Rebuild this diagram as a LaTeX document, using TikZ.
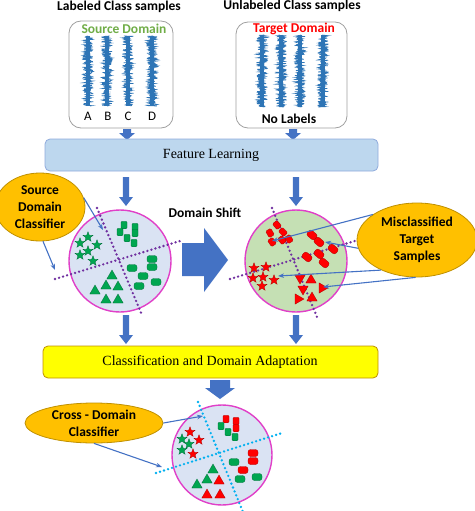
\documentclass[tikz,border=0pt]{standalone}
\usepackage{fontspec}
\setmainfont{Carlito}
\newfontfamily\serifft{Liberation Serif}
\usetikzlibrary{shapes.geometric,arrows.meta}
\definecolor{arrblue}{HTML}{4472C4}
\definecolor{wave}{HTML}{2E75B6}
\definecolor{srcgreen}{HTML}{70AD47}
\definecolor{tgtred}{HTML}{FF0000}
\definecolor{boxgray}{HTML}{A0A0A0}
\definecolor{featfill}{HTML}{BDD7EE}
\definecolor{featdraw}{HTML}{8FAADC}
\definecolor{classfill}{HTML}{FFFF00}
\definecolor{classdraw}{HTML}{BF9000}
\definecolor{ellfill}{HTML}{FFC000}
\definecolor{elldraw}{HTML}{BF9000}
\definecolor{circblue}{HTML}{DAE3F3}
\definecolor{circgreen}{HTML}{C5E0B4}
\definecolor{magentaB}{HTML}{E040C8}
\definecolor{dotpurple}{HTML}{7030A0}
\definecolor{dotcyan}{HTML}{00B0F0}
\definecolor{shg}{HTML}{00A650}
\definecolor{shgd}{HTML}{00703A}
\definecolor{shr}{HTML}{FF0000}
\definecolor{shrd}{HTML}{B00000}
\newcommand\blkdown[6]{%
 \fill[arrblue] ({#1-#4},#2) -- ({#1+#4},#2) -- ({#1+#4},{#3-#6}) -- ({#1+#5},{#3-#6}) -- (#1,#3) -- ({#1-#5},{#3-#6}) -- ({#1-#4},{#3-#6}) -- cycle;}
\newcommand\wavef[3]{%
 \draw[wave, line width=4.5pt] (#1,#2) -- (#1,#3);
 \draw[wave, line width=0.7pt] plot[domain=#2:#3, samples=200] ({#1+5.5*rand},\x);}
\begin{document}
\begin{tikzpicture}[x=1pt,y=-1pt,
  bold/.style={font=\fontsize{13.5}{17}\selectfont\bfseries, inner sep=0, align=center},
  reg/.style={font=\fontsize{13}{15}\selectfont, inner sep=0},
  serifl/.style={font=\serifft\fontsize{14}{16}\selectfont, inner sep=0},
  samplebox/.style={draw=boxgray, line width=0.8pt, fill=white, rounded corners=12pt},
  stagebox/.style={rounded corners=5pt, line width=0.8pt},
  domcirc/.style={circle, draw=magentaB, line width=1.4pt, inner sep=0},
  orell/.style={ellipse, fill=ellfill, draw=elldraw, line width=0.8pt, inner sep=0, align=center, font=\fontsize{13.5}{17}\selectfont\bfseries},
  dotp/.style={dotpurple, line width=2.6pt, line cap=round, dash pattern=on 0pt off 4.2pt},
  dotc/.style={dotcyan, line width=2.6pt, line cap=round, dash pattern=on 0pt off 4.2pt},
  conn/.style={arrblue, line width=1.1pt, -{Stealth[length=6pt,width=4.5pt]}},
  g/.style={fill=shg, draw=shgd},
  r/.style={fill=shr, draw=shrd},
  starS/.style={star, star points=5, star point ratio=2.4, minimum size=10.5pt, inner sep=0, line width=0.3pt},
  rectS/.style={rectangle, rounded corners=1.2pt, minimum width=6pt, minimum height=7.5pt, inner sep=0, line width=0.3pt},
  hexS/.style={rectangle, rounded corners=2.5pt, minimum width=10pt, minimum height=7pt, inner sep=0, line width=0.3pt},
  triS/.style={regular polygon, regular polygon sides=3, minimum size=12pt, inner sep=0, line width=0.3pt}
]
\useasboundingbox (0,0) rectangle (474,511);
\pgfmathsetseed{11}

% titles
\node[bold, anchor=base] (t1) at (119,11) {Labeled Class samples};
\node[bold, anchor=base] (t2) at (292,10) {Unlabeled Class samples};

% sample boxes
\node[samplebox, minimum width=104pt, minimum height=107pt] (lbox) at (121,74.5) {};
\node[samplebox, minimum width=111pt, minimum height=106pt] (rbox) at (291.5,75) {};
\node[bold, anchor=base, text=srcgreen] (sd) at (124,34) {Source Domain};
\node[bold, anchor=base, text=tgtred] (td) at (294,33) {Target Domain};
\wavef{88}{36}{106}
\wavef{107}{36}{106}
\wavef{128}{36}{106}
\wavef{152}{36}{106}
\wavef{262}{35}{107}
\wavef{281}{35}{107}
\wavef{300}{35}{107}
\wavef{323}{35}{107}
\node[reg, anchor=base] (la) at (88,120) {A};
\node[reg, anchor=base] (lb) at (108,120) {B};
\node[reg, anchor=base] (lc) at (128,120) {C};
\node[reg, anchor=base] (ld) at (152,120) {D};
\node[bold, anchor=base] (nl) at (289,123) {No Labels};

\blkdown{127}{129}{140}{4}{8}{7}
\blkdown{293}{129}{140}{4}{8}{7}

% feature learning
\node[stagebox, fill=featfill, draw=featdraw, minimum width=333pt, minimum height=32pt] (feat) at (211.5,155) {};
\node[serifl] (featt) at (211,155) {Feature Learning};

\blkdown{126}{177}{206}{3.2}{7}{9}
\blkdown{296}{177}{206}{3.2}{7}{9}

% circles
\node[domcirc, fill=circblue, minimum size=102pt] (lc1) at (120,261) {};
\node[domcirc, fill=circgreen, minimum size=102pt] (rc1) at (296,261) {};

% dotted separators
\coordinate (p1a) at (97,208); \coordinate (p1b) at (142,315);
\coordinate (p2a) at (55,279); \coordinate (p2b) at (180,241);
\coordinate (q1a) at (272,208); \coordinate (q1b) at (317,317);
\coordinate (q2a) at (230,279); \coordinate (q2b) at (358,240);
\draw[dotp] (p1a) -- (p1b);
\draw[dotp] (p2a) -- (p2b);
\draw[dotp] (q1a) -- (q1b);
\draw[dotp] (q2a) -- (q2b);

% left circle samples
\foreach \x/\y [count=\i] in {88/237,80/243,97/245,88/251,80/255,93/261}
  \node[starS, g] (ls\i) at (\x,\y) {};
\foreach \x/\y [count=\i] in {124/225,135/227,120/232,135/233,127/238,134/243}
  \node[rectS, g] (lr\i) at (\x,\y) {};
\foreach \x/\y [count=\i] in {152/259,152/267,132/268,143/276,156/282,139/286}
  \node[hexS, g] (lh\i) at (\x,\y) {};
\foreach \x/\y [count=\i] in {112/276,106/286,118/287,95/291,106/300,118/300}
  \node[triS, g] (lt\i) at (\x,\y) {};

% right circle samples
\foreach \x/\y/\a [count=\i] in {277/225/40,270/233/30,283/232/45,272/242/35,282/240/40,289/239/30}
  \node[rectS, r, rotate=\a] (rr\i) at (\x,\y) {};
\foreach \x/\y/\a [count=\i] in {312/235/-40,319/242/-40,333/249/-40,319/254/-40,307/257/-40,324/263/-40}
  \node[hexS, r, rotate=\a] (rh\i) at (\x,\y) {};
\foreach \x/\y [count=\i] in {254/268,266/267,253/278,263/277,274/280,262/286}
  \node[starS, r] (rs\i) at (\x,\y) {};
\foreach \x/\y/\a [count=\i] in {300/278/60,311/280/0,303/289/60,322/288/30,312/298/0,298/299/30}
  \node[triS, r, rotate=\a] (rt\i) at (\x,\y) {};

% domain shift arrow
\fill[arrblue] (182,243) -- (204,243) -- (204,228) -- (228,260) -- (204,292) -- (204,276) -- (182,276) -- cycle;
\node[bold, anchor=base] (dsh) at (205,217) {Domain Shift};

% classifier ellipses
\node[orell, minimum width=90pt, minimum height=68pt] (sdc) at (40,207) {Source\\Domain\\Classifier};
\node[orell, minimum width=120pt, minimum height=74pt] (mts) at (417,240) {Misclassified\\Target\\Samples};

\coordinate (sdcT1) at (103,230);
\coordinate (sdcT2) at (55,270);
\draw[conn] (sdc.12) -- (sdcT1);
\draw[conn] (sdc.-85) -- (sdcT2);
\coordinate (mT1) at (272,241);
\coordinate (mT2) at (325,242);
\coordinate (mT3) at (278,276);
\coordinate (mT4) at (323,287);
\draw[conn] (mts.150) -- (mT1);
\draw[conn] (mts.-172) -- (mT2);
\draw[conn] (mts.-140) -- (mT3);
\draw[conn] (mts.-92) -- (mT4);

\blkdown{126}{315}{344}{3.2}{7}{9}
\blkdown{296}{315}{344}{3.2}{7}{9}

% classification box
\node[stagebox, fill=classfill, draw=classdraw, minimum width=335pt, minimum height=32pt] (cls) at (210.5,362) {};
\node[serifl] (clst) at (210,362) {Classification and Domain Adaptation};

\blkdown{220}{380}{399}{10}{15}{11}

% bottom circle
\node[domcirc, fill=circblue, minimum size=100pt] (bc) at (222,455) {};
\coordinate (c1a) at (198,402); \coordinate (c1b) at (243,512);
\coordinate (c2a) at (156,473); \coordinate (c2b) at (282,433);
\draw[dotc] (c1a) -- (c1b);
\draw[dotc] (c2a) -- (c2b);

\foreach \x/\y/\c [count=\i] in {182/439/g,190/432/r,199/440/r,189/444/g,182/450/g,193/454/r}
  \node[starS, \c] (bs\i) at (\x,\y) {};
\foreach \x/\y/\c [count=\i] in {226/419/r,236/421/r,221/426/g,236/428/r,228/432/g,235/437/g}
  \node[rectS, \c] (br\i) at (\x,\y) {};
\foreach \x/\y/\c [count=\i] in {253/453/r,253/461/r,234/462/g,243/470/r,240/479/g,257/477/g}
  \node[hexS, \c] (bh\i) at (\x,\y) {};
\foreach \x/\y/\c [count=\i] in {213/470/g,207/480/g,219/481/r,197/485/g,207/495/r,220/495/r}
  \node[triS, \c] (bt\i) at (\x,\y) {};

\node[orell, minimum width=138pt, minimum height=40pt] (cdc) at (94,423) {Cross - Domain\\Classifier};
\coordinate (cT1) at (203,416);
\coordinate (cT2) at (162,467);
\draw[conn] (cdc.0) -- (cT1);
\draw[conn] (cdc.-90) -- (cT2);
\end{tikzpicture}
\end{document}
